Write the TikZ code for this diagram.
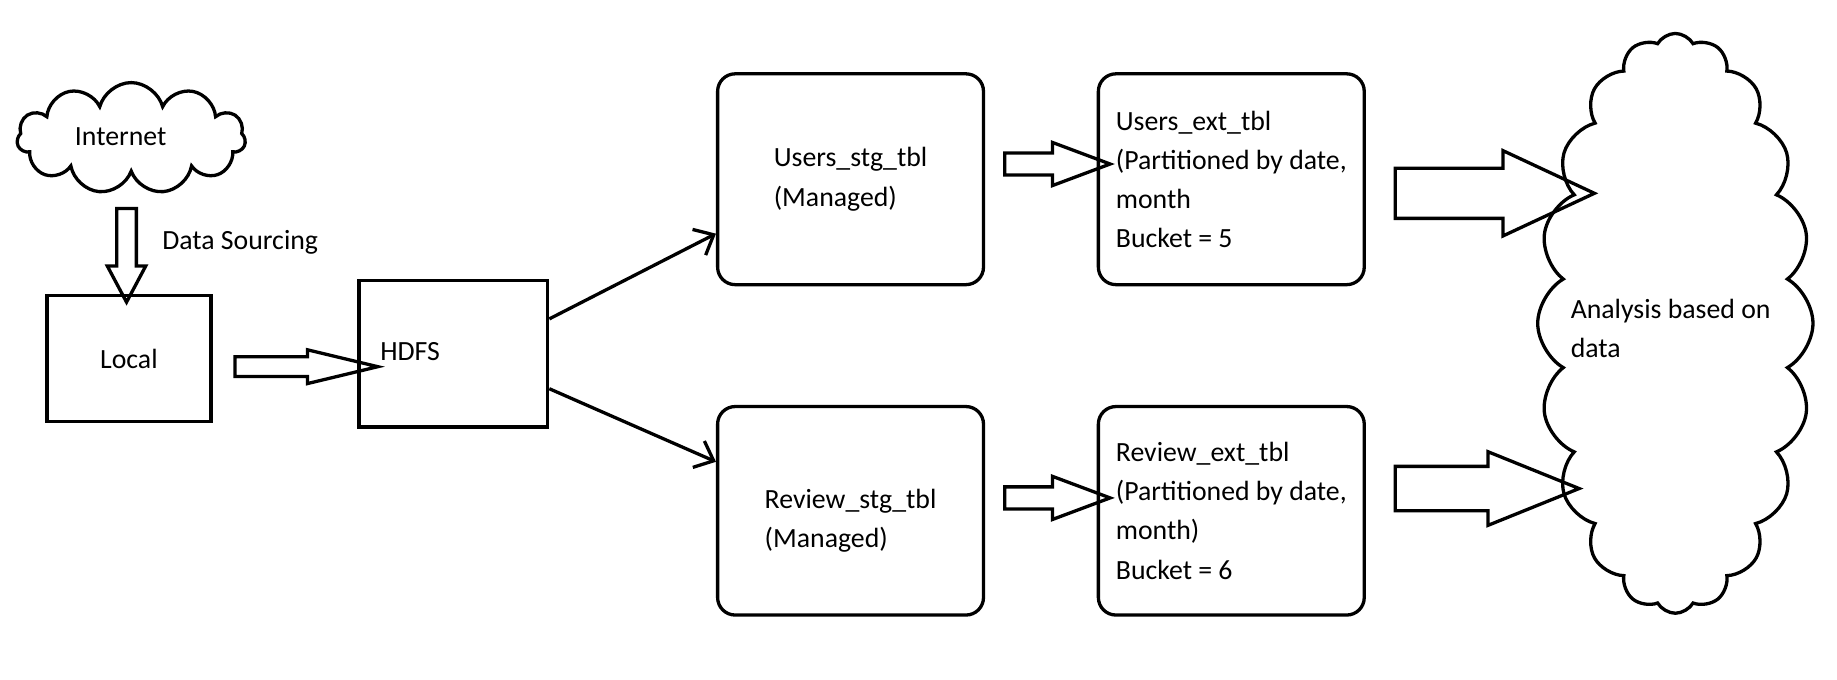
\documentclass[tikz,border=0pt]{standalone}
\usepackage{fontspec}
\setmainfont{Carlito}
\usetikzlibrary{shapes.symbols,shapes.arrows,arrows.meta}
\begin{document}
\begin{tikzpicture}[x=0.02cm,y=-0.02cm,
  every node/.style={font=\fontsize{13.5}{19}\selectfont},
  box/.style={draw,line width=1.6pt,inner sep=0pt,align=left},
  rbox/.style={box,rounded corners=0.3cm},
  harrow/.style={single arrow,draw,line width=1.6pt,inner sep=0pt,single arrow head indent=0pt},
  line/.style={line width=1.6pt,-{Straight Barb[length=8pt,width=14pt,line width=1.6pt]}}]
\useasboundingbox (0,0) rectangle (1568,580);
\node[cloud,draw,line width=1.6pt,cloud puffs=11,minimum width=3.9cm,minimum height=1.9cm,aspect=2] (inet) at (112,118) {};
\node (inetT) at (103,117) {Internet};
\node[cloud,draw,line width=1.6pt,cloud puffs=20,cloud puff arc=120,minimum width=4.7cm,minimum height=9.9cm,aspect=0.5] (ana) at (1430,276) {};
\node[align=left] (anaT) at (1426,280) {Analysis based on\\data};
\node[box,minimum width=2.8cm,minimum height=2.14cm] (local) at (110,306) {Local};
\node[box,minimum width=3.22cm,minimum height=2.5cm] (hdfs) at (387,302) {};
\node (hdfsT) at (350,300) {HDFS};
\node[rbox,minimum width=4.54cm,minimum height=3.6cm] (us) at (726,153) {Users\_stg\_tbl\\(Managed)};
\node[rbox,minimum width=4.54cm,minimum height=3.56cm] (rs) at (726,436) {\\Review\_stg\_tbl\\(Managed)};
\node[rbox,minimum width=4.54cm,minimum height=3.6cm] (ue) at (1051,153) {Users\_ext\_tbl\\(Partitioned by date,\\month\\Bucket = 5};
\node[rbox,minimum width=4.54cm,minimum height=3.56cm] (re) at (1051,436) {Review\_ext\_tbl\\(Partitioned by date,\\month)\\Bucket = 6};
\node (dsT) at (205,207) {Data Sourcing};
\node[harrow,rotate=-90,minimum height=1.6cm,single arrow head extend=0.16cm,single arrow tip angle=56] (a1) at (108,210) {\rule{0pt}{0.28cm}};
\node[harrow,minimum height=2.44cm,single arrow head extend=0.12cm,single arrow tip angle=27] (a2) at (244,313) {\rule{0pt}{0.28cm}};
\node[harrow,minimum height=1.8cm,single arrow head extend=0.18cm,single arrow tip angle=41] (a3) at (890,140) {\rule{0pt}{0.32cm}};
\node[harrow,minimum height=1.8cm,single arrow head extend=0.18cm,single arrow tip angle=41] (a4) at (890,425) {\rule{0pt}{0.32cm}};
\node[harrow,minimum height=3.4cm,single arrow head extend=0.3cm,single arrow tip angle=50] (a5) at (1253,165) {\rule{0pt}{0.8cm}};
\node[harrow,minimum height=3.14cm,single arrow head extend=0.25cm,single arrow tip angle=44] (a6) at (1246,417) {\rule{0pt}{0.7cm}};
\draw[line] (hdfs.20) -- (us.202);
\draw[line] (hdfs.-20) -- (rs.160);
\end{tikzpicture}
\end{document}
